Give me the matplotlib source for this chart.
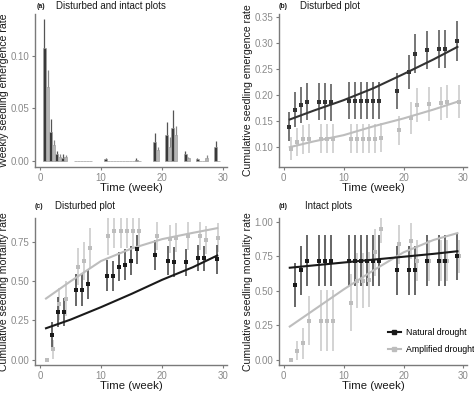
import matplotlib
matplotlib.use("Agg")
import matplotlib.pyplot as plt
from matplotlib.lines import Line2D

plt.rcParams['font.family'] = ['Liberation Sans', 'DejaVu Sans']

DARK = "#1a1a1a"
LIGHT = "#bdbdbd"
LIGHT_ERR = "#d0d0d0"
AXC = "#7a7a7a"

# ---- panel (a): weekly emergence, bars
a_weeks = [1, 2, 3, 4, 6, 7, 8, 11, 12, 13, 14, 15, 16, 19, 21, 22, 24, 26, 27, 29]
a_nat = [0.108, 0.027, 0.006, 0.003, 0, 0, 0, 0.002, 0, 0, 0, 0, 0.001, 0.018, 0.025, 0.031, 0.006, 0.002, 0, 0.013]
a_nat_err = [0.027, 0.013, 0.003, 0.003, 0, 0, 0, 0.001, 0, 0, 0, 0, 0.002, 0.008, 0.012, 0.017, 0.003, 0.001, 0, 0.006]
a_amp = [0.070, 0.015, 0.004, 0.004, 0, 0, 0, 0, 0, 0, 0, 0, 0, 0.010, 0.013, 0.025, 0.003, 0, 0.003, 0]
a_amp_err = [0.017, 0.005, 0.002, 0.001, 0, 0, 0, 0, 0, 0, 0, 0, 0, 0.003, 0.010, 0.008, 0.001, 0, 0.002, 0]

# ---- panel (b): cumulative emergence, disturbed
b_weeks = [1, 2, 3, 4, 6, 7, 8, 11, 12, 13, 14, 15, 16, 19, 21, 22, 24, 26, 27, 29]
b_nat = [0.139, 0.172, 0.181, 0.187, 0.187, 0.187, 0.186, 0.189, 0.189, 0.189, 0.189, 0.189, 0.189,
         0.208, 0.244, 0.279, 0.286, 0.288, 0.288, 0.303]
b_nat_err = [0.028, 0.034, 0.035, 0.035, 0.035, 0.035, 0.035, 0.035, 0.035, 0.035, 0.035, 0.035, 0.035,
             0.034, 0.033, 0.037, 0.036, 0.036, 0.036, 0.038]
b_amp = [0.097, 0.110, 0.115, 0.116, 0.116, 0.116, 0.116, 0.116, 0.116, 0.116, 0.116, 0.116, 0.118,
         0.132, 0.156, 0.181, 0.183, 0.184, 0.187, 0.187]
b_amp_err = [0.022, 0.026, 0.028, 0.028, 0.028, 0.028, 0.028, 0.028, 0.028, 0.028, 0.028, 0.028, 0.028,
             0.028, 0.030, 0.032, 0.032, 0.032, 0.032, 0.032]
b_fit_x = [1, 5, 10, 15, 20, 25, 29]
b_fit_nat = [0.153, 0.170, 0.190, 0.213, 0.240, 0.268, 0.292]
b_fit_amp = [0.100, 0.111, 0.123, 0.140, 0.155, 0.172, 0.187]

# ---- panel (c): cumulative mortality, disturbed
c_nat_weeks = [2, 3, 4, 6, 7, 8, 11, 12, 13, 14, 15, 16, 19, 21, 22, 24, 26, 27, 29]
c_nat = [0.16, 0.305, 0.305, 0.444, 0.444, 0.482, 0.536, 0.536, 0.594, 0.607, 0.633, 0.704,
         0.670, 0.633, 0.622, 0.622, 0.650, 0.648, 0.640]
c_nat_err = [0.08, 0.095, 0.09, 0.10, 0.10, 0.095, 0.10, 0.095, 0.095, 0.10, 0.095, 0.09,
             0.095, 0.095, 0.095, 0.085, 0.085, 0.08, 0.09]
c_amp_weeks = [1, 2, 3, 4, 6, 7, 8, 11, 12, 13, 14, 15, 16, 19, 21, 22, 24, 26, 27, 29]
c_amp = [0.0, 0.066, 0.355, 0.39, 0.594, 0.629, 0.71, 0.79, 0.82, 0.82, 0.82, 0.82, 0.82,
         0.79, 0.773, 0.78, 0.79, 0.79, 0.762, 0.78]
c_amp_err = [0.0, 0.06, 0.10, 0.11, 0.12, 0.12, 0.13, 0.12, 0.11, 0.11, 0.11, 0.11, 0.11,
             0.09, 0.09, 0.09, 0.09, 0.09, 0.09, 0.09]
c_fit_x = [1, 5, 10, 15, 20, 25, 29]
c_fit_nat = [0.20, 0.255, 0.335, 0.42, 0.51, 0.59, 0.665]
c_fit_amp = [0.39, 0.50, 0.63, 0.71, 0.77, 0.81, 0.84]

# ---- panel (d): cumulative mortality, intact
d_nat_weeks = [2, 3, 4, 6, 7, 8, 11, 12, 13, 14, 15, 16, 19, 21, 22, 24, 26, 27, 29]
d_nat = [0.545, 0.648, 0.72, 0.72, 0.72, 0.72, 0.72, 0.72, 0.72, 0.72, 0.72, 0.72,
         0.648, 0.648, 0.648, 0.72, 0.72, 0.72, 0.752]
d_nat_err = [0.16, 0.175, 0.185, 0.185, 0.185, 0.185, 0.185, 0.185, 0.185, 0.185, 0.185, 0.185,
             0.175, 0.175, 0.175, 0.185, 0.185, 0.185, 0.17]
d_amp_weeks = [1, 2, 3, 4, 6, 7, 8, 11, 12, 13, 14, 15, 16, 19, 21, 22, 24, 26, 27, 29]
d_amp = [0.0, 0.064, 0.117, 0.283, 0.283, 0.283, 0.283, 0.414, 0.574, 0.574, 0.58, 0.78, 0.95,
         0.838, 0.86, 0.72, 0.72, 0.72, 0.72, 0.75]
d_amp_err = [0.0, 0.07, 0.115, 0.18, 0.22, 0.22, 0.22, 0.21, 0.20, 0.20, 0.20, 0.17, 0.10,
             0.14, 0.13, 0.15, 0.15, 0.15, 0.15, 0.12]
d_fit_x = [1, 5, 10, 15, 20, 25, 29]
d_fit_nat = [0.668, 0.685, 0.706, 0.727, 0.748, 0.769, 0.788]
d_fit_amp = [0.24, 0.36, 0.51, 0.65, 0.78, 0.87, 0.92]

W, H = 474, 395
fig = plt.figure(figsize=(W / 100, H / 100), dpi=100)


def px_axes(l, t, r, b):
    return fig.add_axes([l / W, 1 - b / H, (r - l) / W, (b - t) / H])


def style(ax, ylabel, yticks, ylim):
    for s in ["top", "right"]:
        ax.spines[s].set_visible(False)
    for s in ["left", "bottom"]:
        ax.spines[s].set_color(AXC)
        ax.spines[s].set_linewidth(1.0)
    ax.tick_params(colors=AXC, labelcolor="#8a8a8a", labelsize=7, length=2.5, width=0.8, pad=1.5)
    ax.set_xlim(-0.8, 30.6)
    ax.set_xticks([0, 10, 20, 30])
    ax.set_yticks(yticks)
    ax.set_ylim(*ylim)
    ax.set_xlabel("Time (week)", fontsize=8.2, color="#1a1a1a", labelpad=0.5)
    ax.set_ylabel(ylabel, fontsize=7.6, color="#1a1a1a", labelpad=1.5)


def draw_pts(ax, xs, ys, es, off, col, ecol, ms):
    xx = [x + off for x in xs]
    ax.errorbar(xx, ys, yerr=es, fmt="none", ecolor=ecol, elinewidth=1.3, capsize=0, zorder=2)
    ax.plot(xx, ys, "s", color=col, ms=ms, zorder=4, markeredgewidth=0)


# (a)
ax = px_axes(35, 14, 227, 167)
xn = [w - 0.25 for w in a_weeks]
xa = [w + 0.25 for w in a_weeks]
ax.bar(xn, a_nat, width=0.5, color="#3a3a3a", edgecolor="#a0a0a0", linewidth=0.5, zorder=2)
ax.bar(xa, a_amp, width=0.5, color="#b5b5b5", edgecolor="#a0a0a0", linewidth=0.5, zorder=2)
ax.errorbar(xn, a_nat, yerr=[[0] * len(a_nat), a_nat_err], fmt="none", ecolor="#555555",
            elinewidth=0.9, capsize=0, zorder=3)
ax.errorbar(xa, a_amp, yerr=[[0] * len(a_amp), a_amp_err], fmt="none", ecolor="#888888",
            elinewidth=0.9, capsize=0, zorder=3)
style(ax, "Weekly seedling emergence rate", [0.0, 0.05, 0.10], (-0.006, 0.14))

# (b)
ax = px_axes(279, 14, 467, 167)
draw_pts(ax, b_weeks, b_amp, b_amp_err, 0.2, LIGHT, LIGHT_ERR, 3)
draw_pts(ax, b_weeks, b_nat, b_nat_err, -0.1, "#333333", "#6a6a6a", 3)
ax.plot(b_fit_x, b_fit_amp, color=LIGHT, lw=1.5, zorder=3)
ax.plot(b_fit_x, b_fit_nat, color="#333333", lw=1.5, zorder=3)
style(ax, "Cumulative seedling emergence rate", [0.10, 0.15, 0.20, 0.25, 0.30, 0.35], (0.062, 0.355))

# (c)
ax = px_axes(35, 218, 227, 365)
draw_pts(ax, c_amp_weeks, c_amp, c_amp_err, 0.2, LIGHT, LIGHT_ERR, 3)
draw_pts(ax, c_nat_weeks, c_nat, c_nat_err, -0.1, DARK, "#5a5a5a", 3.2)
ax.plot(c_fit_x, c_fit_amp, color=LIGHT, lw=1.5, zorder=3)
ax.plot(c_fit_x, c_fit_nat, color=DARK, lw=1.5, zorder=3)
style(ax, "Cumulative seedling mortality rate", [0.0, 0.25, 0.50, 0.75], (-0.035, 0.905))

# (d)
ax = px_axes(279, 218, 467, 365)
draw_pts(ax, d_amp_weeks, d_amp, d_amp_err, 0.2, LIGHT, LIGHT_ERR, 3)
draw_pts(ax, d_nat_weeks, d_nat, d_nat_err, -0.1, DARK, "#5a5a5a", 3.2)
ax.plot(d_fit_x, d_fit_amp, color=LIGHT, lw=1.5, zorder=3)
ax.plot(d_fit_x, d_fit_nat, color=DARK, lw=1.5, zorder=3)
style(ax, "Cumulative seedling mortality rate", [0.0, 0.25, 0.50, 0.75, 1.00], (-0.04, 1.03))
handles = [Line2D([], [], color=DARK, lw=1.5, marker="s", ms=3),
           Line2D([], [], color=LIGHT, lw=1.5, marker="s", ms=3)]
ax.legend(handles, ["Natural drought", "Amplified drought"], loc="lower left",
          bbox_to_anchor=(0.56, 0.05), frameon=False, fontsize=6.3, handlelength=1.5,
          handletextpad=0.6, labelspacing=0.9, borderaxespad=0)

# panel titles
for tag, title, xt, xx, yy in [("(a)", "Disturbed and intact plots", 37, 56, 6),
                               ("(b)", "Disturbed plot", 279, 300, 6),
                               ("(c)", "Disturbed plot", 35, 55, 206),
                               ("(d)", "Intact plots", 279, 305, 206)]:
    fig.text(xt / W, 1 - yy / H, tag, fontsize=5, fontweight="bold", color="#1a1a1a", va="center")
    fig.text(xx / W, 1 - yy / H, title, fontsize=7, color="#1a1a1a", va="center")

fig.savefig("out.png", dpi=100)
